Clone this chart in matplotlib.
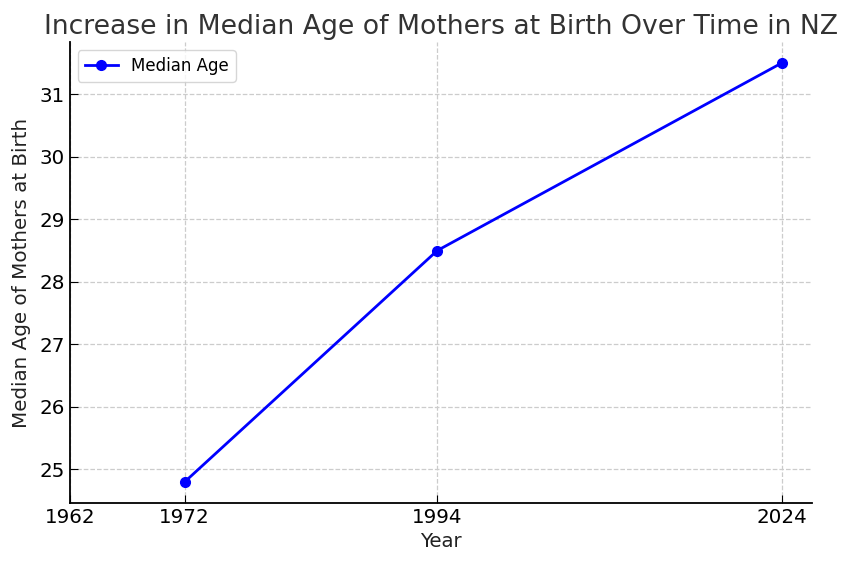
import matplotlib
matplotlib.use("Agg")
import matplotlib.pyplot as plt

years = [1972, 1994, 2024]
median_age = [24.8, 28.5, 31.5]
xticks = [1962, 1972, 1994, 2024]

fig, ax = plt.subplots(figsize=(8.5, 5.67), dpi=100)

ax.plot(years, median_age, marker="o", color="blue", linewidth=2, markersize=7, label="Median Age")

ax.set_title("Increase in Median Age of Mothers at Birth Over Time in NZ", fontsize=19.2, color="#333333")
ax.set_xlabel("Year", fontsize=14.2, color="#222222")
ax.set_ylabel("Median Age of Mothers at Birth", fontsize=14.3, color="#222222", labelpad=6)
ax.set_xticks(xticks)
ax.set_xlim(1962, 2026.6)
ax.tick_params(direction="in", labelsize=14.3, length=6)
ax.grid(True, linestyle="--", color="#cccccc", linewidth=0.9)
ax.spines["top"].set_visible(False)
ax.spines["right"].set_visible(False)
ax.spines["left"].set_linewidth(1.3)
ax.spines["bottom"].set_linewidth(1.3)
ax.legend(loc="upper left", fontsize=12)

fig.subplots_adjust(left=0.082, right=0.955, top=0.926, bottom=0.113)
fig.savefig("out.png", dpi=100)
